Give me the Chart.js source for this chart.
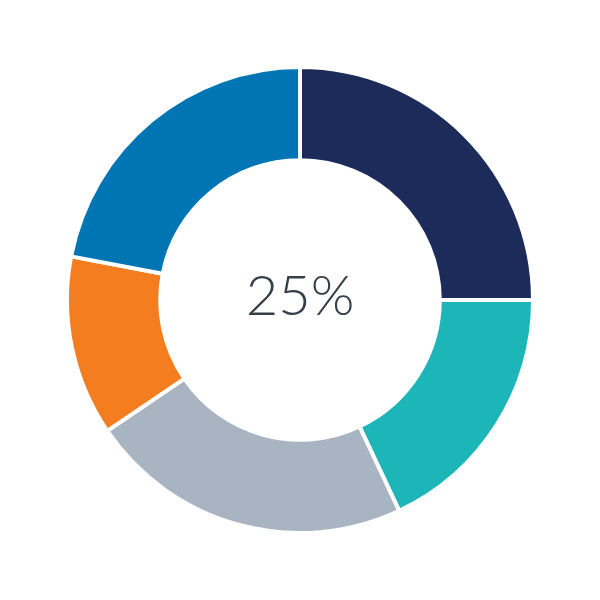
<!DOCTYPE html>
<html>
<head>
  <title>Doughnut</title>
  <script src="https://cdn.jsdelivr.net/npm/chart.js"></script>
  <style>
    html, body { margin: 0; padding: 0; background: #fff; }
    #wrap { width: 600px; height: 600px; }
  </style>
</head>
<body>
<div id="wrap"><canvas id="myChart" width="600" height="600"></canvas></div>
<script>
  const labels = ['Navy', 'Teal', 'Gray', 'Orange', 'Blue'];
  const values = [25, 18, 22.5, 12.5, 22];
  const colors = ['#1c2b59', '#1cb5b8', '#a9b4c2', '#f47d20', '#0075b4'];
  const centerText = '25%';

  const centerLabel = {
    id: 'centerLabel',
    afterDraw(chart) {
      const ctx = chart.ctx;
      const meta = chart.getDatasetMeta(0).data[0];
      ctx.save();
      ctx.font = '300 56px Lato';
      ctx.fillStyle = '#343f4a';
      ctx.textAlign = 'center';
      ctx.textBaseline = 'middle';
      ctx.fillText(centerText, meta.x, meta.y - 3);
      ctx.restore();
    }
  };

  const ctx = document.getElementById('myChart').getContext('2d');
  new Chart(ctx, {
    type: 'doughnut',
    data: {
      labels: labels,
      datasets: [{
        data: values,
        backgroundColor: colors,
        borderColor: '#ffffff',
        borderWidth: 4
      }]
    },
    options: {
      responsive: false,
      animation: false,
      cutout: '60%',
      layout: { padding: 65 },
      plugins: {
        legend: { display: false },
        tooltip: { enabled: false }
      }
    },
    plugins: [centerLabel]
  });
</script>
</body>
</html>
